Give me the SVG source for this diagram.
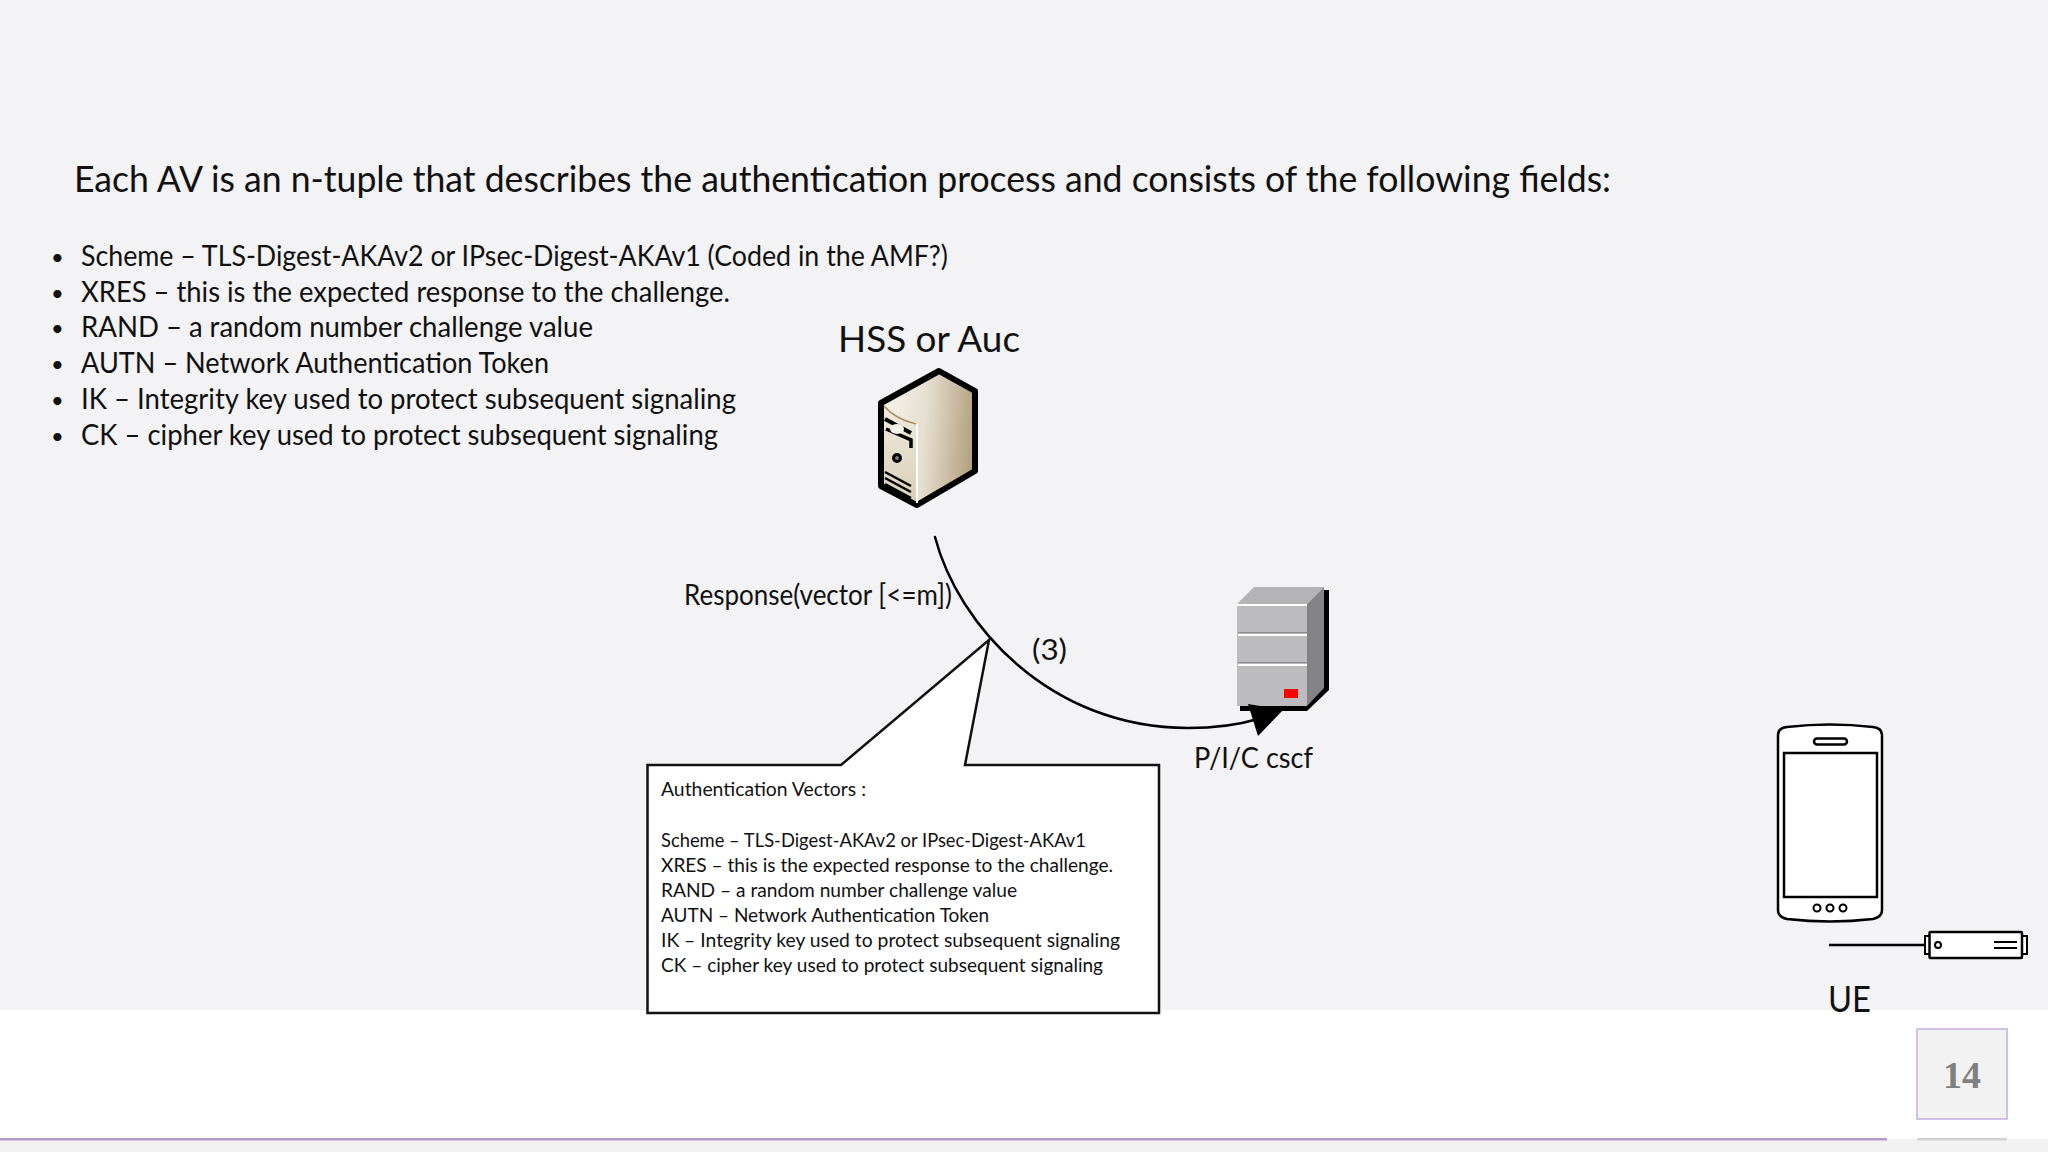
<svg xmlns="http://www.w3.org/2000/svg" width="2048" height="1152" viewBox="0 0 2048 1152">
<defs>
<style>
text{font-family:"Lato","Open Sans","Liberation Sans",sans-serif;fill:#111}
.b{font-size:28px}
.d{font-size:22px}
.c{font-size:18.5px}
.o{fill:none;stroke:#000;stroke-linejoin:round;stroke-linecap:round}
</style>
<linearGradient id="sv" x1="0" y1="0" x2="1" y2="0.1"><stop offset="0" stop-color="#f8f6ef"/><stop offset="0.5" stop-color="#e6dfd0"/><stop offset="1" stop-color="#b5a383"/></linearGradient>
<linearGradient id="sf" x1="0" y1="0" x2="0" y2="1"><stop offset="0" stop-color="#f0ebdd"/><stop offset="1" stop-color="#d9cfb8"/></linearGradient>
</defs>
<rect width="2048" height="1152" fill="#f3f2f4"/>
<rect y="1010" width="2048" height="129" fill="#fff"/>
<rect y="1141" width="2048" height="11" fill="#f2f2f2"/>
<rect y="1138" width="1887" height="2.5" fill="#b597d0"/>
<rect x="1917" y="1138" width="90" height="2.5" fill="#d4d2d6"/>

<g id="title">
<text x="74" y="192" font-size="36" textLength="1537" lengthAdjust="spacingAndGlyphs">Each AV is an n-tuple that describes the authentication process and consists of the following fields:</text>
</g>
<g id="bullets">
<text x="51" y="265" class="d">•</text><text x="51" y="301" class="d">•</text><text x="51" y="336" class="d">•</text><text x="51" y="372" class="d">•</text><text x="51" y="408" class="d">•</text><text x="51" y="444" class="d">•</text>
<text x="81" y="266" class="b" textLength="867" lengthAdjust="spacingAndGlyphs">Scheme – TLS-Digest-AKAv2 or IPsec-Digest-AKAv1 (Coded in the AMF?)</text>
<text x="81" y="302" class="b" textLength="649" lengthAdjust="spacingAndGlyphs">XRES – this is the expected response to the challenge.</text>
<text x="81" y="337" class="b" textLength="512" lengthAdjust="spacingAndGlyphs">RAND – a random number challenge value</text>
<text x="81" y="373" class="b" textLength="468" lengthAdjust="spacingAndGlyphs">AUTN – Network Authentication Token</text>
<text x="81" y="409" class="b" textLength="655" lengthAdjust="spacingAndGlyphs">IK – Integrity key used to protect subsequent signaling</text>
<text x="81" y="445" class="b" textLength="637" lengthAdjust="spacingAndGlyphs">CK – cipher key used to protect subsequent signaling</text>
</g>

<g id="hss">
<text x="838" y="352" font-size="37" textLength="182" lengthAdjust="spacingAndGlyphs">HSS or Auc</text>
<polygon points="939,371 975,391 975,471 917,505 881,486 881,403" fill="url(#sv)" stroke="#000" stroke-width="6" stroke-linejoin="round"/>
<polygon points="884,406 917,424 917,502 884,483" fill="url(#sf)"/>
<path d="M884 406Q895 419 916 424" fill="none" stroke="#a98d5f" stroke-width="1.500"/>
<path d="M917 424V503" stroke="#fff" stroke-width="2"/>
<path d="M885 419L911 433" fill="none" stroke="#000" stroke-width="4"/>
<path d="M886 429L911 440V448" fill="none" stroke="#000" stroke-width="3.500"/>
<ellipse cx="897" cy="429" rx="7" ry="5" fill="#f5f2e8"/>
<circle cx="897" cy="458" r="3.500" fill="#777" stroke="#000" stroke-width="3"/>
<path d="M885 472L911 486M885 478L911 492M885 484L911 498" fill="none" stroke="#000" stroke-width="2.500"/>
</g>

<g id="cscf">
<polygon points="1329,590 1329,690 1307,711 1240,711 1240,700 1324,590" fill="#000"/>
<polygon points="1237,604 1254,587 1324,587 1307,604" fill="#b4b3b6"/>
<polygon points="1307,604 1324,587 1324,688 1307,706" fill="#838285"/>
<rect x="1237" y="604" width="70" height="102" fill="#bcbbbe"/>
<path d="M1237 605H1307M1238 635H1307M1238 665H1307" stroke="#fff" stroke-width="2"/>
<path d="M1238 632.500H1307M1238 662.500H1307" stroke="#8a898c" stroke-width="1"/>
<rect x="1284" y="689" width="14" height="9" fill="#f00"/>
<text x="1194" y="768" font-size="28" textLength="119" lengthAdjust="spacingAndGlyphs">P/I/C cscf</text>
</g>

<g id="connectors">
<path class="o" stroke-width="2.500" d="M935 537C958 625 1050 728 1188 728C1215 728 1238 725 1258 719"/>
<polygon points="1248,704 1283,710 1258,736" fill="#000"/>
</g>

<g id="labels">
<text x="684" y="605" font-size="28" textLength="268" lengthAdjust="spacingAndGlyphs">Response(vector [&lt;=m])</text>
<text x="1032" y="660" font-size="28" textLength="35" lengthAdjust="spacingAndGlyphs">(3)</text>
</g>

<g id="callout">
<polygon points="647.500,765 841,765 989,640 965,765 1159,765 1159,1013 647.500,1013" fill="#fff" stroke="#111" stroke-width="2.500" stroke-linejoin="miter"/>
<text x="661" y="796" class="c" textLength="205" lengthAdjust="spacingAndGlyphs">Authentication Vectors :</text>
<text x="661" y="847" class="c" textLength="425" lengthAdjust="spacingAndGlyphs">Scheme – TLS-Digest-AKAv2 or IPsec-Digest-AKAv1</text>
<text x="661" y="872" class="c" textLength="452" lengthAdjust="spacingAndGlyphs">XRES – this is the expected response to the challenge.</text>
<text x="661" y="897" class="c" textLength="356" lengthAdjust="spacingAndGlyphs">RAND – a random number challenge value</text>
<text x="661" y="922" class="c" textLength="328" lengthAdjust="spacingAndGlyphs">AUTN – Network Authentication Token</text>
<text x="661" y="947" class="c" textLength="459" lengthAdjust="spacingAndGlyphs">IK – Integrity key used to protect subsequent signaling</text>
<text x="661" y="972" class="c" textLength="442" lengthAdjust="spacingAndGlyphs">CK – cipher key used to protect subsequent signaling</text>
</g>

<g id="ue">
<path d="M1778 735Q1778 728 1787 727Q1830 722 1873 727Q1882 728 1882 735V910Q1882 917 1873 919Q1830 924 1787 919Q1778 917 1778 910Z" fill="#fff" stroke="#000" stroke-width="2.500"/>
<rect x="1784" y="753" width="93" height="144" fill="#fff" stroke="#000" stroke-width="2.500"/>
<rect x="1814" y="738.500" width="33" height="6" rx="3" fill="none" stroke="#000" stroke-width="2.500"/>
<circle cx="1817" cy="908" r="3.500" fill="none" stroke="#000" stroke-width="2"/>
<circle cx="1830" cy="908" r="3.500" fill="none" stroke="#000" stroke-width="2"/>
<circle cx="1843" cy="908" r="3.500" fill="none" stroke="#000" stroke-width="2"/>
<path d="M1829 945H1925" stroke="#000" stroke-width="2.500"/>
<rect x="1925" y="936" width="5" height="18" fill="#fff" stroke="#000" stroke-width="2"/>
<rect x="2022" y="936" width="5" height="18" fill="#fff" stroke="#000" stroke-width="2"/>
<rect x="1929.500" y="932" width="92.500" height="26" rx="1" fill="#fff" stroke="#000" stroke-width="2.500"/>
<circle cx="1938" cy="945" r="3" fill="none" stroke="#000" stroke-width="2"/>
<path d="M1994 942H2017M1994 948H2017" stroke="#000" stroke-width="2"/>
<text x="1828" y="1012" font-size="36" textLength="43" lengthAdjust="spacingAndGlyphs">UE</text>
</g>

<g id="page">
<rect x="1917" y="1029" width="90" height="90" fill="#f2f2f2" stroke="#c2aede" stroke-width="1.500"/>
<text x="1962" y="1088" text-anchor="middle" font-size="38" font-weight="700" style="font-family:'Liberation Serif',serif;fill:#808080">14</text>
</g>
</svg>
